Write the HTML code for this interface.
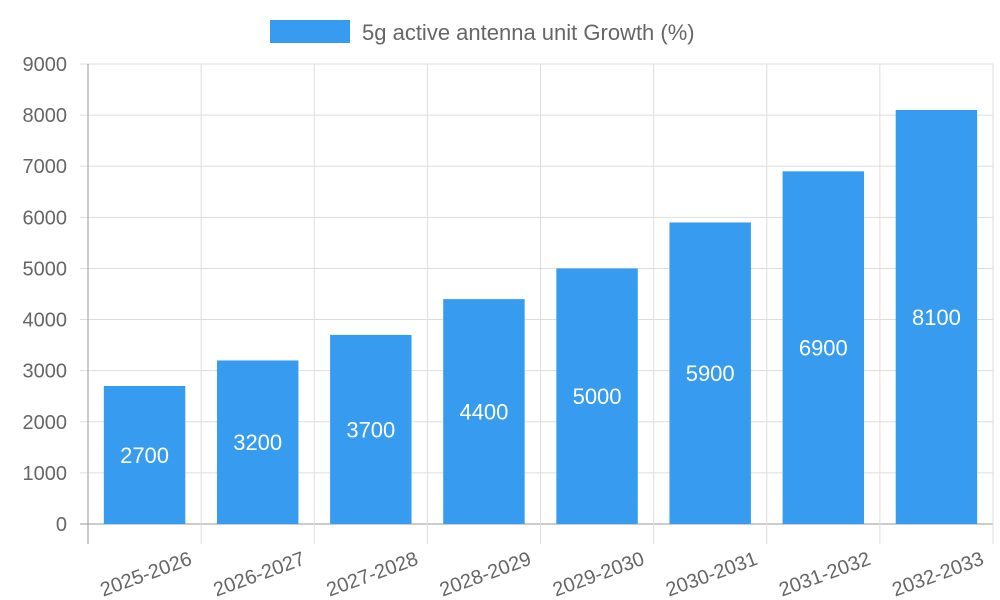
<!DOCTYPE html>
<html><head><meta charset="utf-8"><style>
body{margin:0;background:#fff;}
svg{display:block;font-family:"Liberation Sans",sans-serif;}
</style></head><body>
<svg id="chart" width="1000" height="600" viewBox="0 0 1000 600" xmlns="http://www.w3.org/2000/svg">
<g id="legend">
<rect x="270" y="20" width="80" height="23" fill="#379cf0"/>
<text x="362" y="40" font-size="22" fill="#666">5g active antenna unit Growth (%)</text>
</g>
<g id="grid"></g><g id="bars"></g><g id="axes"></g>
</svg>
<script>
const categories=["2025-2026","2026-2027","2027-2028","2028-2029","2029-2030","2030-2031","2031-2032","2032-2033"];
const values=[2700,3200,3700,4400,5000,5900,6900,8100];
const yTicks=[0,1000,2000,3000,4000,5000,6000,7000,8000,9000];
const NS="http://www.w3.org/2000/svg";
const L=88,R=993,T=64,B=524,YMAX=9000;
const band=(R-L)/categories.length;
const y=v=>B-(v/YMAX)*(B-T);
const x=i=>L+i*band;
function mk(tag,attrs,parent){const e=document.createElementNS(NS,tag);for(const k in attrs)e.setAttribute(k,attrs[k]);parent.appendChild(e);return e;}
const grid=document.getElementById('grid'),bars=document.getElementById('bars'),axes=document.getElementById('axes');
yTicks.forEach(t=>{
 const g=mk('line',{x1:L-8,x2:R,y1:y(t),y2:y(t),stroke:t===0?'#999':'#ddd','stroke-width':1},grid);
 
 
 const tx=mk('text',{x:L-21,y:y(t)+7,'text-anchor':'end','font-size':20,fill:'#666'},axes);
 tx.textContent=t;
 
 
});
for(let i=0;i<=categories.length;i++){
 const g=mk('line',{x1:x(i),x2:x(i),y1:T,y2:B+20,stroke:i===0?'#999':'#ddd','stroke-width':1},grid);
 
 
}
categories.forEach((c,i)=>{
 const bw=band*0.72,bx=x(i)+(band-bw)/2;
 const r=mk('rect',{x:bx,y:y(values[i]),width:bw,height:B-y(values[i]),fill:'#379cf0'},bars);
 
 
 const v=mk('text',{x:bx+bw/2,y:(y(values[i])+B)/2+8,'text-anchor':'middle','font-size':22,fill:'#fff'},bars);
 v.textContent=values[i];
 
 
 const cx=x(i)+band-8,cy=B+40;
 const lb=mk('text',{x:cx,y:cy,'text-anchor':'end','font-size':20,fill:'#666',transform:`rotate(-20 ${cx} ${cy})`},axes);
 lb.textContent=c;
 
 
});
</script>
</body></html>
